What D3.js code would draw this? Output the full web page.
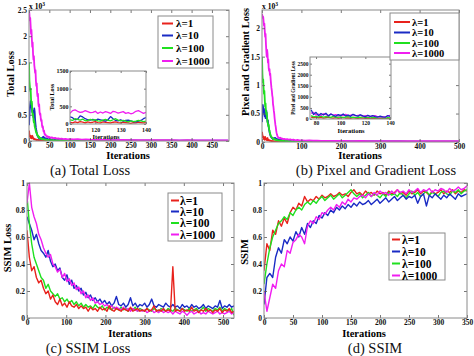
<!DOCTYPE html>
<html><head><meta charset="utf-8">
<script src="https://cdn.jsdelivr.net/npm/d3@7"></script>
<style>body{margin:0;background:#fff}svg{display:block}</style>
</head><body><svg id="c" width="474" height="356"></svg>
<script>
// ---------- shared ----------
const seriesNames = ["λ=1","λ=10","λ=100","λ=1000"];
const seriesColors = ["#e8221c","#1a2bc4","#1fe01f","#f01ef0"];

// ---------- (a) Total Loss (x10^3) ----------
const totalIter = [0,1,2,3,4,5,6,7,8,9,10,11,12,13,14,15,16,17,18,19,
20,21,22,23,24,25,26,27,28,29,30,31,32,33,34,35,36,37,38,39,
40,42,44,46,48,50,53,56,60,64,68,72,76,80,85,90,95,100,110,120,
130,140,150,170,190,210,230,250,270,290,310,330,350,370,390,410,430,450,470,490];
const totalL1 = [0.20,0.12,0.08,0.10,0.06,0.09,0.05,0.07,0.10,0.08,
0.06,0.04,0.05,0.03,0.04,0.03,0.025,0.03,0.02,0.025,
0.02,0.02,0.018,0.02,0.015,0.018,0.015,0.012,0.015,0.012,
0.01,0.012,0.01,0.011,0.01,0.009,0.01,0.009,0.008,0.009,
0.008,0.008,0.007,0.008,0.007,0.006,0.007,0.006,0.006,0.005,
0.006,0.005,0.005,0.005,0.004,0.005,0.004,0.004,0.004,0.004,
0.003,0.004,0.003,0.003,0.003,0.003,0.002,0.003,0.002,0.003,
0.002,0.002,0.002,0.002,0.002,0.002,0.002,0.002,0.002,0.002];
const totalL10 = [0.30,0.45,0.62,0.70,0.76,0.68,0.72,0.60,0.55,0.58,
0.50,0.45,0.52,0.62,0.55,0.40,0.32,0.25,0.20,0.16,
0.12,0.10,0.09,0.07,0.06,0.05,0.06,0.05,0.04,0.05,
0.04,0.05,0.06,0.05,0.07,0.08,0.06,0.07,0.05,0.06,
0.05,0.04,0.05,0.04,0.03,0.035,0.03,0.025,0.03,0.02,
0.025,0.02,0.018,0.02,0.015,0.018,0.015,0.016,0.014,0.015,
0.012,0.014,0.012,0.01,0.011,0.01,0.009,0.01,0.009,0.008,
0.009,0.008,0.008,0.007,0.008,0.007,0.007,0.007,0.006,0.007];
const totalL100 = [1.50,1.15,1.05,0.95,1.00,0.80,0.70,0.75,0.55,0.50,
0.52,0.40,0.35,0.38,0.28,0.25,0.22,0.18,0.15,0.16,
0.12,0.10,0.11,0.08,0.07,0.08,0.06,0.05,0.06,0.05,
0.04,0.045,0.04,0.035,0.04,0.03,0.035,0.03,0.025,0.03,
0.025,0.02,0.025,0.02,0.018,0.02,0.015,0.018,0.015,0.012,
0.014,0.012,0.01,0.012,0.01,0.011,0.009,0.01,0.008,0.009,
0.008,0.009,0.007,0.007,0.006,0.007,0.006,0.006,0.005,0.006,
0.005,0.005,0.005,0.004,0.005,0.004,0.004,0.004,0.004,0.004];
const totalL1000 = [2.50,2.42,2.30,2.35,2.20,2.05,2.12,1.95,1.80,1.88,
1.65,1.55,1.62,1.45,1.38,1.30,1.35,1.15,1.05,1.10,
0.92,0.85,0.90,0.72,0.66,0.70,0.55,0.50,0.52,0.42,
0.38,0.40,0.30,0.26,0.28,0.22,0.18,0.20,0.14,0.12,
0.13,0.10,0.08,0.09,0.07,0.08,0.06,0.07,0.05,0.06,
0.045,0.05,0.04,0.045,0.035,0.04,0.03,0.035,0.03,0.035,
0.028,0.032,0.025,0.022,0.02,0.018,0.02,0.016,0.018,0.015,
0.016,0.014,0.015,0.013,0.014,0.012,0.013,0.012,0.011,0.012];
// inset (a), iterations 110..140
const totalInsetIter = [110,111,112,113,114,115,116,117,118,119,120,121,122,123,124,125,126,127,128,129,130,131,132,133,134,135,136,137,138,139,140];
const totalInsetL1 = [50,30,60,40,70,50,30,60,40,50,70,40,30,60,50,40,30,50,60,40,30,50,40,30,20,40,30,50,40,30,40];
const totalInsetL10 = [200,180,120,140,230,200,150,120,110,130,100,140,120,100,80,120,210,150,100,90,120,80,100,110,90,70,60,80,100,150,180];
const totalInsetL100 = [120,100,150,130,110,140,90,100,130,110,120,90,80,110,130,100,90,120,150,110,90,100,80,60,90,70,80,100,90,70,80];
const totalInsetL1000 = [300,380,400,360,330,340,380,350,320,330,360,300,340,310,350,330,300,360,340,310,330,350,300,320,290,310,360,380,340,300,330];

// ---------- (b) Pixel and Gradient Loss (x10^3) ----------
const pgIter = [0,1,2,3,4,5,6,7,8,9,10,11,12,13,14,15,16,17,18,19,
20,21,22,23,24,25,26,27,28,29,30,31,32,33,34,35,36,37,38,39,
40,42,44,46,48,50,53,56,60,64,68,72,76,80,85,90,95,100,110,120,
130,140,150,170,190,210,230,250,270,290,310,330,350,370,390,410,430,450,470,500];
const pgL1 = [0.18,0.12,0.08,0.10,0.06,0.05,0.08,0.04,0.09,0.06,
0.05,0.04,0.06,0.03,0.07,0.04,0.03,0.035,0.025,0.03,
0.02,0.025,0.02,0.018,0.02,0.015,0.018,0.015,0.012,0.014,
0.012,0.01,0.012,0.01,0.011,0.009,0.01,0.009,0.008,0.009,
0.008,0.008,0.007,0.007,0.006,0.007,0.006,0.006,0.005,0.005,
0.005,0.005,0.004,0.005,0.004,0.004,0.004,0.004,0.003,0.004,
0.003,0.003,0.003,0.003,0.003,0.003,0.003,0.002,0.003,0.002,
0.002,0.002,0.002,0.002,0.002,0.002,0.002,0.002,0.002,0.002];
const pgL10 = [0.35,0.50,0.65,0.60,0.55,0.58,0.50,0.45,0.48,0.42,
0.50,0.55,0.48,0.40,0.35,0.38,0.30,0.26,0.22,0.18,
0.15,0.12,0.10,0.09,0.08,0.07,0.06,0.065,0.05,0.055,
0.06,0.07,0.065,0.06,0.07,0.06,0.05,0.055,0.045,0.05,
0.04,0.045,0.04,0.035,0.04,0.03,0.035,0.03,0.025,0.028,
0.022,0.025,0.02,0.022,0.018,0.02,0.016,0.018,0.015,0.016,
0.014,0.015,0.013,0.012,0.012,0.011,0.011,0.01,0.01,0.01,
0.009,0.009,0.009,0.008,0.008,0.008,0.008,0.007,0.007,0.007];
const pgL100 = [1.50,1.20,1.05,1.10,0.95,0.85,0.90,0.75,0.62,0.68,
0.55,0.48,0.52,0.42,0.36,0.32,0.28,0.30,0.22,0.20,
0.16,0.14,0.12,0.10,0.09,0.08,0.07,0.06,0.065,0.05,
0.055,0.045,0.05,0.04,0.045,0.035,0.04,0.03,0.035,0.03,
0.028,0.025,0.028,0.022,0.02,0.022,0.018,0.02,0.016,0.018,
0.015,0.014,0.015,0.013,0.012,0.013,0.011,0.012,0.01,0.011,
0.01,0.009,0.009,0.008,0.008,0.007,0.007,0.007,0.006,0.006,
0.006,0.006,0.005,0.005,0.005,0.005,0.005,0.004,0.004,0.004];
const pgL1000 = [2.25,2.22,2.18,2.20,2.12,2.05,2.08,1.95,1.85,1.90,
1.72,1.60,1.50,1.62,1.55,1.40,1.45,1.30,1.25,1.28,
1.18,1.20,1.10,1.02,0.95,0.90,0.82,0.78,0.66,0.62,
0.55,0.50,0.42,0.36,0.30,0.26,0.20,0.16,0.13,0.11,
0.09,0.08,0.07,0.075,0.06,0.065,0.05,0.055,0.045,0.05,
0.04,0.045,0.035,0.04,0.03,0.035,0.03,0.028,0.025,0.027,
0.022,0.024,0.02,0.02,0.018,0.019,0.017,0.018,0.016,0.017,
0.015,0.016,0.015,0.014,0.015,0.014,0.013,0.014,0.013,0.013];
// inset (b), iterations 76..140 step 2
const pgInsetIter = [76,78,80,82,84,86,88,90,92,94,96,98,100,102,104,106,108,110,112,114,116,118,120,122,124,126,128,130,132,134,136,138,140];
const pgInsetL1 = [80,60,90,50,70,40,60,80,50,40,60,30,50,70,40,50,30,60,40,30,50,40,30,40,20,30,40,20,30,20,30,20,30];
const pgInsetL10 = [420,200,300,150,250,180,260,140,220,170,120,200,150,230,140,180,120,210,160,130,190,140,100,170,120,150,110,90,130,100,80,150,120];
const pgInsetL100 = [150,100,120,90,130,80,110,100,70,120,90,80,100,60,90,110,70,80,60,90,70,100,60,80,50,70,60,40,60,50,40,60,50];
const pgInsetL1000 = [250,300,180,220,160,240,200,150,230,170,200,140,180,160,210,150,170,200,140,160,180,120,150,140,110,130,150,100,90,110,80,140,160];

// ---------- (c) SSIM Loss, iterations 0..528 step 6 ----------
const ssimLossIter = d3.range(0, 529, 6);
const ssimLossL1 = [0.65,0.45,0.35,0.38,0.30,0.26,0.28,0.22,0.18,0.20,
0.14,0.17,0.12,0.10,0.14,0.09,0.11,0.08,0.12,0.09,
0.08,0.10,0.07,0.09,0.07,0.08,0.05,0.08,0.06,0.07,
0.05,0.08,0.06,0.07,0.05,0.09,0.06,0.05,0.07,0.06,
0.05,0.07,0.06,0.05,0.08,0.05,0.06,0.07,0.05,0.06,
0.05,0.07,0.05,0.06,0.09,0.05,0.06,0.05,0.07,0.05,
0.06,0.05,0.38,0.05,0.06,0.05,0.07,0.05,0.06,0.05,
0.08,0.05,0.06,0.04,0.06,0.05,0.07,0.05,0.06,0.04,
0.06,0.05,0.07,0.04,0.06,0.05,0.07,0.04,0.05];
const ssimLossL10 = [0.75,0.70,0.65,0.58,0.62,0.55,0.50,0.48,0.45,0.50,
0.42,0.38,0.40,0.35,0.37,0.30,0.28,0.32,0.25,0.28,
0.22,0.24,0.20,0.22,0.17,0.19,0.15,0.17,0.13,0.15,
0.12,0.14,0.11,0.13,0.10,0.12,0.09,0.11,0.16,0.10,
0.09,0.11,0.08,0.10,0.15,0.09,0.11,0.08,0.10,0.09,
0.11,0.08,0.10,0.14,0.09,0.08,0.10,0.09,0.08,0.11,
0.09,0.08,0.10,0.08,0.09,0.07,0.10,0.08,0.09,0.07,
0.10,0.08,0.09,0.07,0.08,0.10,0.07,0.09,0.08,0.07,
0.09,0.08,0.13,0.07,0.09,0.08,0.10,0.08,0.09];
const ssimLossL100 = [0.90,0.70,0.55,0.45,0.40,0.35,0.30,0.28,0.22,0.25,
0.20,0.18,0.16,0.18,0.14,0.15,0.12,0.14,0.11,0.13,
0.10,0.12,0.09,0.11,0.08,0.10,0.08,0.09,0.07,0.10,
0.08,0.07,0.09,0.06,0.08,0.07,0.06,0.08,0.07,0.06,
0.08,0.06,0.07,0.05,0.07,0.06,0.08,0.05,0.07,0.06,
0.05,0.07,0.06,0.05,0.07,0.06,0.05,0.07,0.06,0.05,
0.07,0.06,0.05,0.07,0.06,0.05,0.07,0.06,0.05,0.07,
0.05,0.06,0.07,0.05,0.06,0.08,0.05,0.07,0.06,0.05,
0.07,0.06,0.08,0.05,0.07,0.06,0.05,0.07,0.02];
const ssimLossL1000 = [0.85,1.00,0.82,0.75,0.70,0.62,0.58,0.52,0.48,0.45,
0.47,0.40,0.38,0.34,0.36,0.30,0.33,0.27,0.29,0.24,
0.26,0.21,0.23,0.18,0.20,0.15,0.17,0.13,0.15,0.11,
0.12,0.10,0.11,0.09,0.10,0.08,0.09,0.07,0.08,0.07,
0.06,0.08,0.06,0.07,0.05,0.07,0.06,0.05,0.06,0.05,
0.06,0.04,0.05,0.06,0.04,0.05,0.04,0.06,0.04,0.05,
0.04,0.05,0.03,0.05,0.04,0.03,0.05,0.04,0.02,0.04,
0.05,0.03,0.04,0.05,0.03,0.04,0.03,0.05,0.04,0.03,
0.04,0.05,0.03,0.04,0.03,0.04,0.05,0.03,0.04];

// ---------- (d) SSIM, iterations 0..350 step 5 ----------
const ssimIter = d3.range(0, 351, 5);
const ssimL1 = [0.35,0.55,0.50,0.65,0.62,0.72,0.68,0.74,0.70,0.78,
0.82,0.80,0.85,0.83,0.90,0.86,0.88,0.87,0.90,0.88,
0.91,0.89,0.90,0.92,0.90,0.91,0.93,0.91,0.92,0.90,
0.93,0.95,0.92,0.93,0.91,0.94,0.92,0.93,0.91,0.94,
0.92,0.93,0.91,0.94,0.92,0.93,0.95,0.92,0.93,0.91,
0.94,0.92,0.93,0.95,0.92,0.94,0.93,0.91,0.94,0.92,
0.93,0.95,0.92,0.94,0.93,0.95,0.92,0.94,0.93,0.95,0.94];
const ssimL10 = [0.10,0.30,0.33,0.30,0.45,0.52,0.48,0.58,0.55,0.60,
0.57,0.64,0.60,0.67,0.62,0.70,0.67,0.72,0.70,0.76,
0.74,0.78,0.76,0.80,0.78,0.82,0.80,0.83,0.81,0.84,
0.82,0.85,0.83,0.86,0.84,0.85,0.87,0.84,0.86,0.88,
0.85,0.87,0.89,0.86,0.88,0.90,0.87,0.89,0.91,0.88,
0.90,0.89,0.91,0.85,0.90,0.92,0.83,0.91,0.89,0.92,
0.90,0.88,0.91,0.89,0.92,0.90,0.88,0.92,0.90,0.91,0.92];
const ssimL100 = [0.25,0.40,0.52,0.60,0.65,0.70,0.72,0.75,0.73,0.78,
0.76,0.80,0.82,0.80,0.84,0.86,0.84,0.87,0.85,0.88,
0.90,0.87,0.89,0.91,0.88,0.90,0.92,0.89,0.91,0.93,
0.95,0.92,0.90,0.92,0.89,0.91,0.93,0.90,0.92,0.91,
0.89,0.92,0.90,0.93,0.91,0.92,0.90,0.93,0.91,0.89,
0.92,0.94,0.91,0.93,0.90,0.92,0.94,0.91,0.93,0.92,
0.90,0.93,0.94,0.92,0.91,0.94,0.93,0.95,0.92,0.94,0.95];
const ssimL1000 = [0.20,0.05,0.15,0.25,0.22,0.35,0.40,0.38,0.50,0.48,
0.56,0.58,0.62,0.60,0.55,0.68,0.72,0.70,0.75,0.73,
0.78,0.77,0.80,0.82,0.80,0.84,0.82,0.86,0.84,0.88,
0.86,0.89,0.88,0.90,0.91,0.89,0.92,0.90,0.93,0.91,
0.94,0.92,0.93,0.91,0.94,0.92,0.95,0.93,0.94,0.92,
0.95,0.93,0.94,0.96,0.93,0.95,0.94,0.96,0.93,0.95,
0.94,0.96,0.95,0.93,0.96,0.94,0.95,0.97,0.95,0.96,0.98];

// ---------- drawing ----------
const svg = d3.select("#c");
const SERIF = "'Liberation Serif','Times New Roman',serif";
let clipN = 0;

function plot(o){
  const x = d3.scaleLinear().domain(o.xd).range([o.x0, o.x1]);
  const y = d3.scaleLinear().domain(o.yd).range([o.y1, o.y0]);
  const g = svg.append("g");
  g.append("rect").attr("x", o.x0).attr("y", o.y0).attr("width", o.x1 - o.x0).attr("height", o.y1 - o.y0)
    .attr("fill", "#fff");
  const id = "clip" + (clipN++);
  g.append("clipPath").attr("id", id).append("rect")
    .attr("x", o.x0).attr("y", o.y0 - 1).attr("width", o.x1 - o.x0).attr("height", o.y1 - o.y0 + 1);
  const lines = g.append("g").attr("clip-path", `url(#${id})`);
  const line = d3.line().x(d => x(d[0])).y(d => y(d[1]));
  o.order.forEach(i => {
    lines.append("path").datum(d3.zip(o.iter, o.series[i]))
      .attr("d", line).attr("fill", "none").attr("stroke", seriesColors[i])
      .attr("stroke-width", o.lw).attr("stroke-linejoin", "round");
  });
  const fs = o.tickFs;
  const styleAxis = (sel) => {
    sel.select(".domain").remove();
    sel.selectAll(".tick line").attr("stroke", "#555").attr("stroke-width", 0.8);
    sel.selectAll("text").attr("font-family", SERIF).attr("font-weight", "bold")
      .attr("font-size", fs).attr("fill", "#111");
  };
  g.append("g").attr("transform", `translate(0,${o.y1})`)
    .call(d3.axisBottom(x).tickValues(o.xt).tickSize(-o.tl).tickPadding(o.xpad).tickFormat(d3.format("d")))
    .call(styleAxis);
  g.append("g").attr("transform", `translate(0,${o.y0})`)
    .call(d3.axisTop(x).tickValues(o.xt).tickSize(-o.tl).tickFormat(""))
    .call(styleAxis);
  g.append("g").attr("transform", `translate(${o.x0},0)`)
    .call(d3.axisLeft(y).tickValues(o.yt).tickSize(-o.tl).tickPadding(o.ypad).tickFormat(o.yf))
    .call(styleAxis);
  g.append("g").attr("transform", `translate(${o.x1},0)`)
    .call(d3.axisRight(y).tickValues(o.yt).tickSize(-o.tl).tickFormat(""))
    .call(styleAxis);
  g.append("rect").attr("x", o.x0).attr("y", o.y0).attr("width", o.x1 - o.x0).attr("height", o.y1 - o.y0)
    .attr("fill", "none").attr("stroke", "#8a8a8a").attr("stroke-width", 1);
  // axis labels
  g.append("text").attr("x", o.xlx).attr("y", o.xly).attr("text-anchor", "middle")
    .attr("font-family", SERIF).attr("font-weight", "bold").attr("font-size", o.labFs).text("Iterations");
  g.append("text").attr("transform", `translate(${o.ylx},${o.yly}) rotate(-90)`).attr("text-anchor", "middle")
    .attr("font-family", SERIF).attr("font-weight", "bold").attr("font-size", o.ylabFs || o.labFs).text(o.ylabel);
  return g;
}

function legend(L){
  const g = svg.append("g");
  g.append("rect").attr("x", L.x0).attr("y", L.y0).attr("width", L.x1 - L.x0).attr("height", L.y1 - L.y0)
    .attr("fill", "#fff").attr("stroke", "#8a8a8a").attr("stroke-width", 1);
  seriesNames.forEach((name, i) => {
    const yy = L.rows[i];
    g.append("line").attr("x1", L.lx0).attr("x2", L.lx1).attr("y1", yy).attr("y2", yy)
      .attr("stroke", seriesColors[i]).attr("stroke-width", 2);
    g.append("text").attr("x", L.tx).attr("y", yy).attr("dy", "0.35em")
      .attr("font-family", SERIF).attr("font-weight", "bold").attr("font-size", L.fs).text(name);
  });
}

function title(txt, cx, by){
  svg.append("text").attr("x", cx).attr("y", by).attr("text-anchor", "middle")
    .attr("font-family", SERIF).attr("font-size", 14.5).attr("fill", "#111").text(txt);
}

function exponent(x0, by){
  const t = svg.append("text").attr("x", x0).attr("y", by).attr("font-family", SERIF)
    .attr("font-weight", "bold").attr("font-size", 7.5);
  t.append("tspan").text("x 10");
  t.append("tspan").attr("dy", -3).attr("font-size", 5.5).text("3");
}

const fmtTrim = d => d3.format("~g")(d);

// (a)
plot({x0:29, x1:229, y0:10, y1:141, xd:[0,492], yd:[0,2.5],
  iter: totalIter, series:[totalL1,totalL10,totalL100,totalL1000], order:[0,1,2,3], lw:1.8,
  xt:[0,50,100,150,200,250,300,350,400,450], yt:[0,0.5,1,1.5,2,2.5], yf: fmtTrim,
  tl:3, tickFs:7.5, xpad:2, ypad:2, labFs:10.5,
  xlx:128, xly:159, ylx:14, yly:74, ylabel:"Total Loss"});
exponent(29, 9);
plot({x0:70, x1:146, y0:71, y1:124, xd:[110,140], yd:[0,1500],
  iter: totalInsetIter, series:[totalInsetL1,totalInsetL10,totalInsetL100,totalInsetL1000], order:[0,1,2,3], lw:1.3,
  xt:[110,120,130,140], yt:[0,500,1000,1500], yf: d3.format("d"),
  tl:2, tickFs:6, xpad:4, ypad:1.5, labFs:6.5, ylabFs:6,
  xlx:106, xly:139, ylx:54, yly:97, ylabel:"Total Loss"});
legend({x0:158, x1:213, y0:16, y1:68, rows:[23.5,35.5,48,61], lx0:162, lx1:173, tx:176, fs:11});
title("(a) Total Loss", 90, 174.5);

// (b)
plot({x0:262, x1:459, y0:10, y1:142, xd:[0,500], yd:[0,2.32],
  iter: pgIter, series:[pgL1,pgL10,pgL100,pgL1000], order:[0,1,2,3], lw:1.8,
  xt:[0,100,200,300,400,500], yt:[0,0.5,1,1.5,2], yf: fmtTrim,
  tl:3, tickFs:7.5, xpad:2, ypad:2, labFs:10.5,
  xlx:360, xly:159, ylx:248.5, yly:62, ylabel:"Pixel and Gradient Loss"});
exponent(262, 9);
plot({x0:310, x1:391, y0:57, y1:119, xd:[75.1,140.8], yd:[0,2800],
  iter: pgInsetIter, series:[pgInsetL1,pgInsetL10,pgInsetL100,pgInsetL1000], order:[0,2,3,1], lw:1.3,
  xt:[80,100,120,140], yt:[0,500,1000,1500,2000,2500], yf: d3.format("d"),
  tl:2, tickFs:5.5, xpad:2, ypad:1.5, labFs:6.5, ylabFs:5.2,
  xlx:351, xly:133, ylx:294.5, yly:88, ylabel:"Pixel and Gradient Loss"});
legend({x0:390, x1:459, y0:13, y1:60, rows:[22,32.5,43,53], lx0:394, lx1:410, tx:412, fs:10.5});
title("(b) Pixel and Gradient Loss", 376, 174.5);

// (c)
plot({x0:27, x1:234, y0:183, y1:318, xd:[0,528], yd:[0,1],
  iter: ssimLossIter, series:[ssimLossL1,ssimLossL10,ssimLossL100,ssimLossL1000], order:[1,2,3,0], lw:1.4,
  xt:[0,100,200,300,400,500], yt:[0,0.2,0.4,0.6,0.8,1], yf: fmtTrim,
  tl:3, tickFs:7.5, xpad:2, ypad:2, labFs:10.5,
  xlx:130, xly:337, ylx:10.5, yly:248, ylabel:"SSIM Loss"});
legend({x0:168, x1:222, y0:193, y1:241, rows:[200.5,211.5,223,234.5], lx0:171, lx1:179, tx:180, fs:11.5});
title("(c) SSIM Loss", 88, 352.5);

// (d)
plot({x0:264, x1:467, y0:183, y1:318, xd:[0,350], yd:[0,1],
  iter: ssimIter, series:[ssimL1,ssimL10,ssimL100,ssimL1000], order:[0,2,1,3], lw:1.4,
  xt:[0,50,100,150,200,250,300,350], yt:[0,0.2,0.4,0.6,0.8,1], yf: fmtTrim,
  tl:3, tickFs:7.5, xpad:2, ypad:2, labFs:10.5,
  xlx:364, xly:337, ylx:248, yly:252, ylabel:"SSIM"});
legend({x0:389, x1:445, y0:233, y1:280, rows:[239.5,251.5,263.5,275.5], lx0:392, lx1:400, tx:402, fs:11.5});
title("(d) SSIM", 375, 352.5);
</script>
</body></html>
